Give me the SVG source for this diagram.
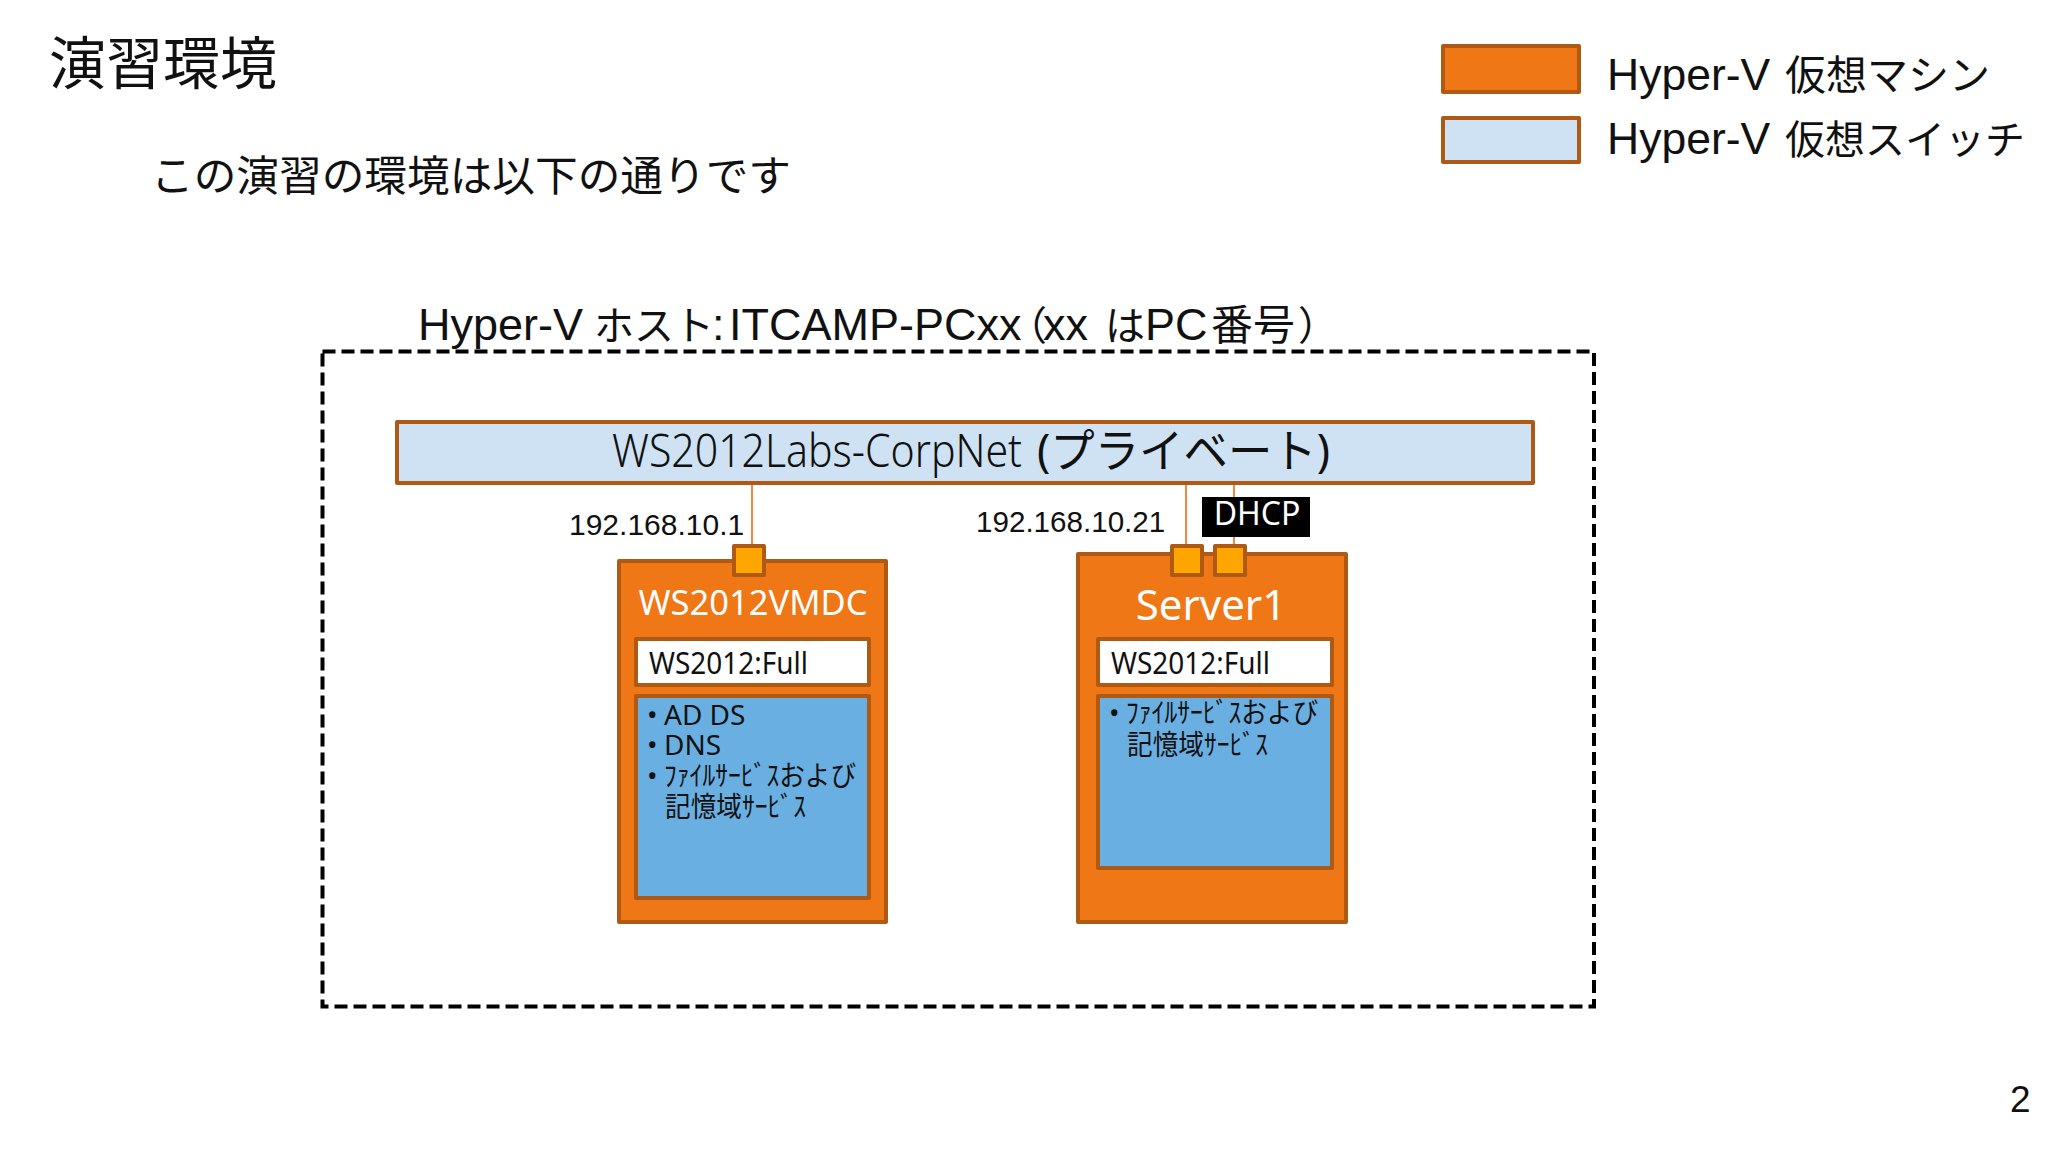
<svg xmlns="http://www.w3.org/2000/svg" width="2048" height="1152" viewBox="0 0 2048 1152">
<style>
.t{font-family:"Liberation Sans","Noto Sans CJK JP",sans-serif;fill:#111}
.s{font-family:"Noto Sans","Noto Sans CJK JP",sans-serif;fill:#111}
.box{stroke:#ae5a14;stroke-width:4;stroke-linejoin:round}
.vm{fill:#ef7715}
.sw{fill:#cfe2f3}
.os{fill:#fff}
.role{fill:#6aafe1}
.port{fill:#ffa500}
.wire{stroke:#ef8a3c;stroke-width:2;fill:none}
</style>
<rect width="2048" height="1152" fill="#fff"/>
<text class="t" x="49" y="84" font-size="57">演習環境</text>
<text class="t" x="151" y="191" font-size="42.5" textLength="640" lengthAdjust="spacingAndGlyphs">この演習の環境は以下の通りです</text>
<g id="legend">
<rect class="box vm" x="1443" y="46" width="136" height="46"/>
<rect class="box sw" x="1443" y="118" width="136" height="44"/>
<text class="t" x="1607" y="90" font-size="44.5">Hyper-V<tspan x="1785" font-size="41">仮想マシン</tspan></text>
<text class="t" x="1607" y="154" font-size="44.5">Hyper-V<tspan x="1785" font-size="40">仮想スイッチ</tspan></text>
</g>
<text class="t" x="418" y="340" font-size="45">Hyper-V<tspan x="594" font-size="40">ホスト</tspan><tspan x="712">:</tspan><tspan x="729">ITCAMP-PCxx</tspan><tspan x="1007" font-size="40">（</tspan><tspan x="1043">xx</tspan><tspan x="1105" font-size="40">は</tspan><tspan x="1145">PC</tspan><tspan x="1211" font-size="42">番号</tspan><tspan x="1298" font-size="40">）</tspan></text>
<g id="host"><rect x="322.5" y="351.5" width="1271.5" height="655" fill="none" stroke="#000" stroke-width="4" stroke-dasharray="13 6"/></g>
<g id="connectors">
<line class="wire" x1="752" y1="484" x2="752" y2="546"/>
<line class="wire" x1="1186" y1="484" x2="1186" y2="546"/>
<line class="wire" x1="1234" y1="484" x2="1234" y2="546"/>
</g>
<g id="switch">
<rect class="box sw" x="397" y="422" width="1136" height="61"/>
<text x="612" y="467" font-size="46"><tspan class="s" font-weight="300" textLength="410" lengthAdjust="spacingAndGlyphs">WS2012Labs-CorpNet</tspan><tspan class="s" x="1037" textLength="293" lengthAdjust="spacingAndGlyphs">(プライベート)</tspan></text>
</g>
<text class="t" x="569" y="535" font-size="30">192.168.10.1</text>
<text class="t" x="976" y="532" font-size="29.6">192.168.10.21</text>
<g id="dhcp">
<rect x="1202" y="497" width="108" height="40" fill="#000"/>
<text class="s" x="1257" y="525" font-size="32" text-anchor="middle" style="fill:#fff">DHCP</text>
</g>
<g id="WS2012VMDC">
<rect class="box vm" x="619" y="561" width="267" height="361"/>
<rect class="box port" x="734" y="546" width="30" height="29"/>
<text class="s" x="753" y="615" font-size="34.5" text-anchor="middle" style="fill:#fff">WS2012VMDC</text>
<rect class="box os" x="636" y="639" width="233" height="46"/>
<text class="s" x="649" y="674" font-size="30" textLength="159" lengthAdjust="spacingAndGlyphs">WS2012:Full</text>
<rect class="box role" x="636" y="696" width="233" height="202"/>
<text class="s" font-size="28"><tspan x="647" y="725">•</tspan><tspan x="664" y="725">AD DS</tspan><tspan x="647" y="755">•</tspan><tspan x="664" y="755">DNS</tspan><tspan x="647" y="786">•</tspan><tspan x="664" y="786" textLength="192" lengthAdjust="spacingAndGlyphs">ﾌｧｲﾙｻｰﾋﾞｽおよび</tspan><tspan x="665" y="817" textLength="141" lengthAdjust="spacingAndGlyphs">記憶域ｻｰﾋﾞｽ</tspan></text>
</g>
<g id="Server1">
<rect class="box vm" x="1078" y="554" width="268" height="368"/>
<rect class="box port" x="1172" y="546" width="30" height="29"/>
<rect class="box port" x="1215" y="546" width="30" height="29"/>
<text class="s" x="1211" y="620" font-size="42" text-anchor="middle" style="fill:#fff">Server1</text>
<rect class="box os" x="1098" y="639" width="234" height="46"/>
<text class="s" x="1111" y="674" font-size="30" textLength="159" lengthAdjust="spacingAndGlyphs">WS2012:Full</text>
<rect class="box role" x="1098" y="696" width="234" height="172"/>
<text class="s" font-size="28"><tspan x="1109" y="723">•</tspan><tspan x="1126" y="723" textLength="192" lengthAdjust="spacingAndGlyphs">ﾌｧｲﾙｻｰﾋﾞｽおよび</tspan><tspan x="1127" y="755" textLength="141" lengthAdjust="spacingAndGlyphs">記憶域ｻｰﾋﾞｽ</tspan></text>
</g>
<text class="t" x="2010" y="1112" font-size="37">2</text>
</svg>
